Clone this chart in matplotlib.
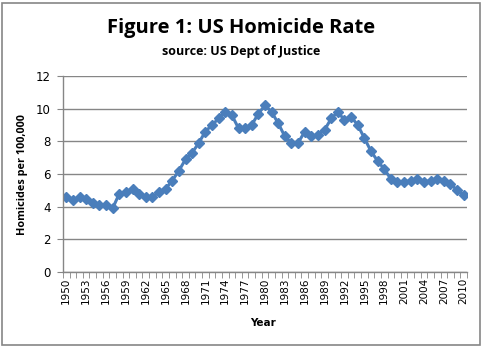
import numpy as np
import matplotlib.pyplot as plt
from matplotlib.patches import Rectangle

# homicide rate per 100,000
years = list(range(1950, 2011))
rate = [4.6, 4.4, 4.6, 4.5, 4.2, 4.1, 4.1, 3.9, 4.8, 4.9, 5.1, 4.8, 4.6, 4.6, 4.9,
        5.1, 5.6, 6.2, 6.9, 7.3, 7.9, 8.6, 9.0, 9.4, 9.8, 9.6, 8.8, 8.8, 9.0, 9.7,
        10.2, 9.8, 9.1, 8.3, 7.9, 7.9, 8.6, 8.3, 8.4, 8.7, 9.4, 9.8, 9.3, 9.5, 9.0,
        8.2, 7.4, 6.8, 6.3, 5.7, 5.5, 5.5, 5.6, 5.7, 5.5, 5.6, 5.7, 5.6, 5.4, 5.0, 4.7]
label_years = years[::3]
y_ticks = [0, 2, 4, 6, 8, 10, 12]

fig = plt.figure(figsize=(4.83, 3.47), dpi=100)
ax = fig.add_axes([63/483, 1 - 272/347, 404/483, 196/347])

ax.plot(years, rate, color='#4A7EBB', lw=2.2, marker='D', markersize=5.5,
        markeredgecolor='#4A7EBB', markerfacecolor='#4A7EBB')

ax.set_xlim(1949.5, 2010.5)
ax.set_ylim(0, 12)
ax.set_yticks(y_ticks)
ax.grid(axis='y', color='#868686', lw=1)
ax.set_axisbelow(True)

ax.set_xticks(label_years)
ax.set_xticklabels([str(y) for y in label_years], rotation=90, fontsize=7.5,
                   family='DejaVu Sans')
ax.set_xticks(np.arange(1949.5, 2011, 1), minor=True)
ax.tick_params(axis='x', which='major', length=0, pad=4)
ax.tick_params(axis='x', which='minor', length=4, color='#868686', direction='out')
ax.tick_params(axis='y', length=4, color='#868686', labelsize=8.5, pad=5)

for s in ['top', 'right']:
    ax.spines[s].set_visible(False)
for s in ['left', 'bottom']:
    ax.spines[s].set_color('#868686')
    ax.spines[s].set_linewidth(1)

ax.set_xlabel('Year', fontsize=7.5, fontweight='bold')
ax.xaxis.set_label_coords(0.495, -0.235)
ax.set_ylabel('Homicides per 100,000', fontsize=7.8, fontweight='bold',
              family='Open Sans')
ax.yaxis.set_label_coords(-0.087, 0.497)

fig.text(0.5, 0.918, 'Figure 1: US Homicide Rate', ha='center', va='center',
         fontsize=14.5, fontweight='bold', family='Open Sans')
fig.text(0.5, 0.851, 'source: US Dept of Justice', ha='center', va='center',
         fontsize=9, fontweight='bold', family='Open Sans')

fig.patches.append(Rectangle((0.004, 0.006), 0.99, 0.985, transform=fig.transFigure,
                             fill=False, edgecolor='#868686', lw=1.2))

fig.savefig('out.png', dpi=100)
